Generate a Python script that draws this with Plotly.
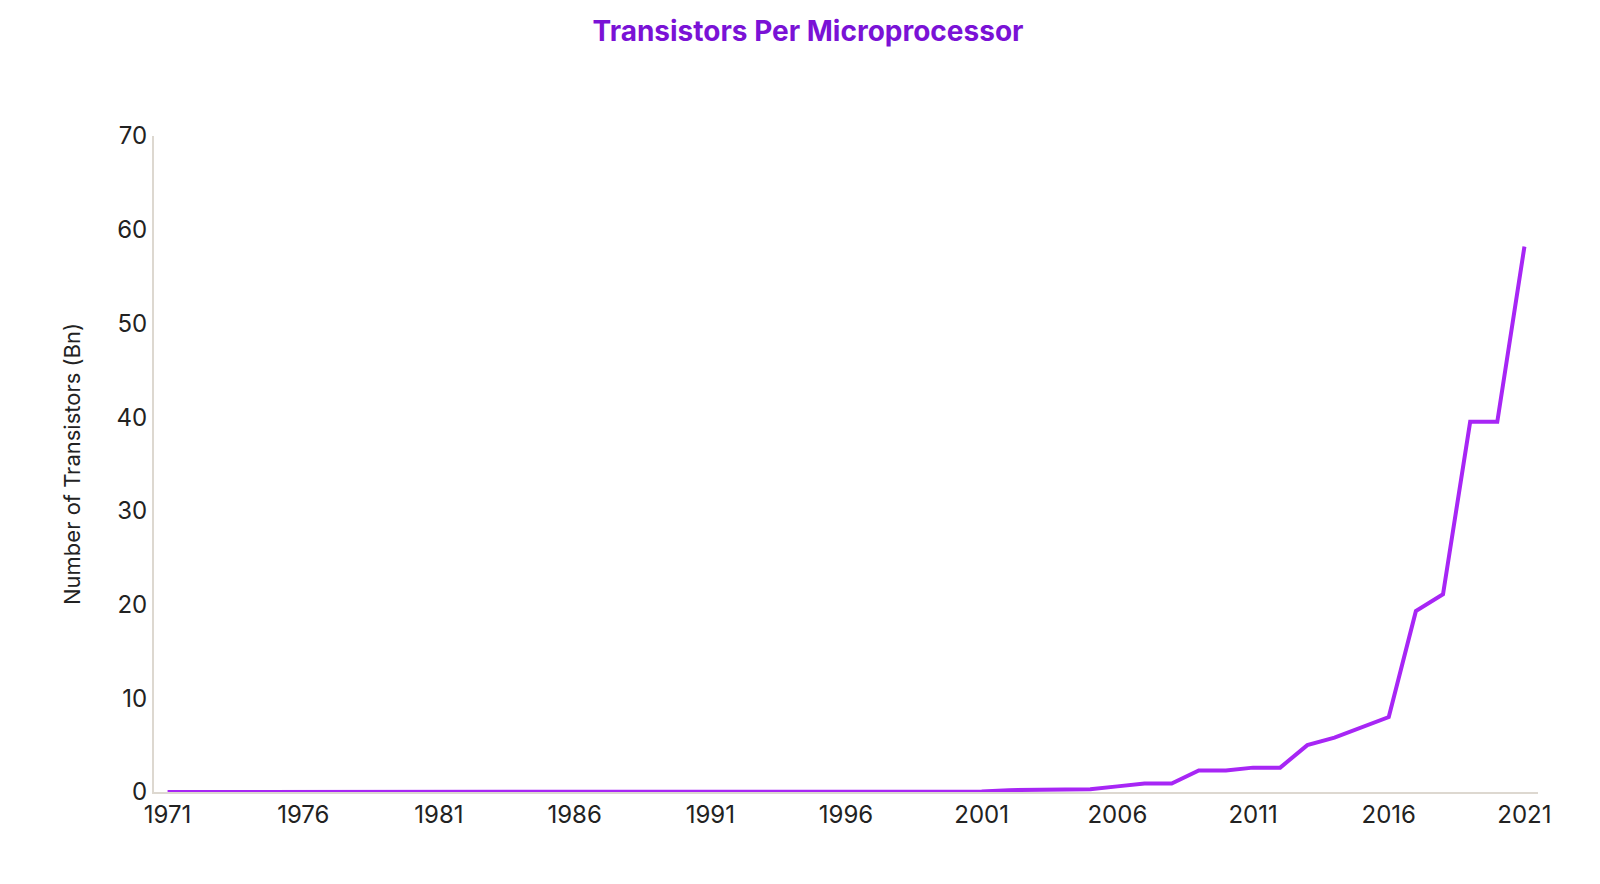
import plotly.graph_objects as go

years = list(range(1971, 2022))
early = [0.0]*28  # 1971-1998
late = [0.01, 0.02, 0.05, 0.2, 0.2, 0.22, 0.3, 0.6, 0.9, 0.9, 2.3, 2.3, 2.6, 2.6, 5.0, 5.8, 6.9, 8.0, 19.3, 21.1, 39.5, 39.5, 58.2]
values = early + late
tick_years = list(range(1971, 2022, 5))

fig = go.Figure(go.Scatter(x=years, y=values, mode="lines",
                           line=dict(color="#a726f5", width=4)))
fig.update_layout(
    width=1600, height=884, plot_bgcolor="white", paper_bgcolor="white",
    margin=dict(l=146, r=70, t=128, b=100),
    title=dict(text="<b>Transistors Per Microprocessor</b>", x=0.5, y=0.985, yanchor="top", xanchor="center",
               font=dict(size=28, color="#7a12d6", family="Inter")),
    font=dict(family="Inter", size=24, color="#222"),
    showlegend=False,
)
fig.update_xaxes(range=[1970.5, 2021.5], tickvals=tick_years, showgrid=False,
                 showline=True, linecolor="#ddd8d0", linewidth=2, ticks="")
fig.update_yaxes(range=[0, 70], dtick=10, showgrid=False, showline=True,
                 linecolor="#ddd8d0", linewidth=2, zeroline=False,
                 title=dict(text="Number of Transistors (Bn)", font=dict(size=22), standoff=30))
fig.write_html("out.html")
